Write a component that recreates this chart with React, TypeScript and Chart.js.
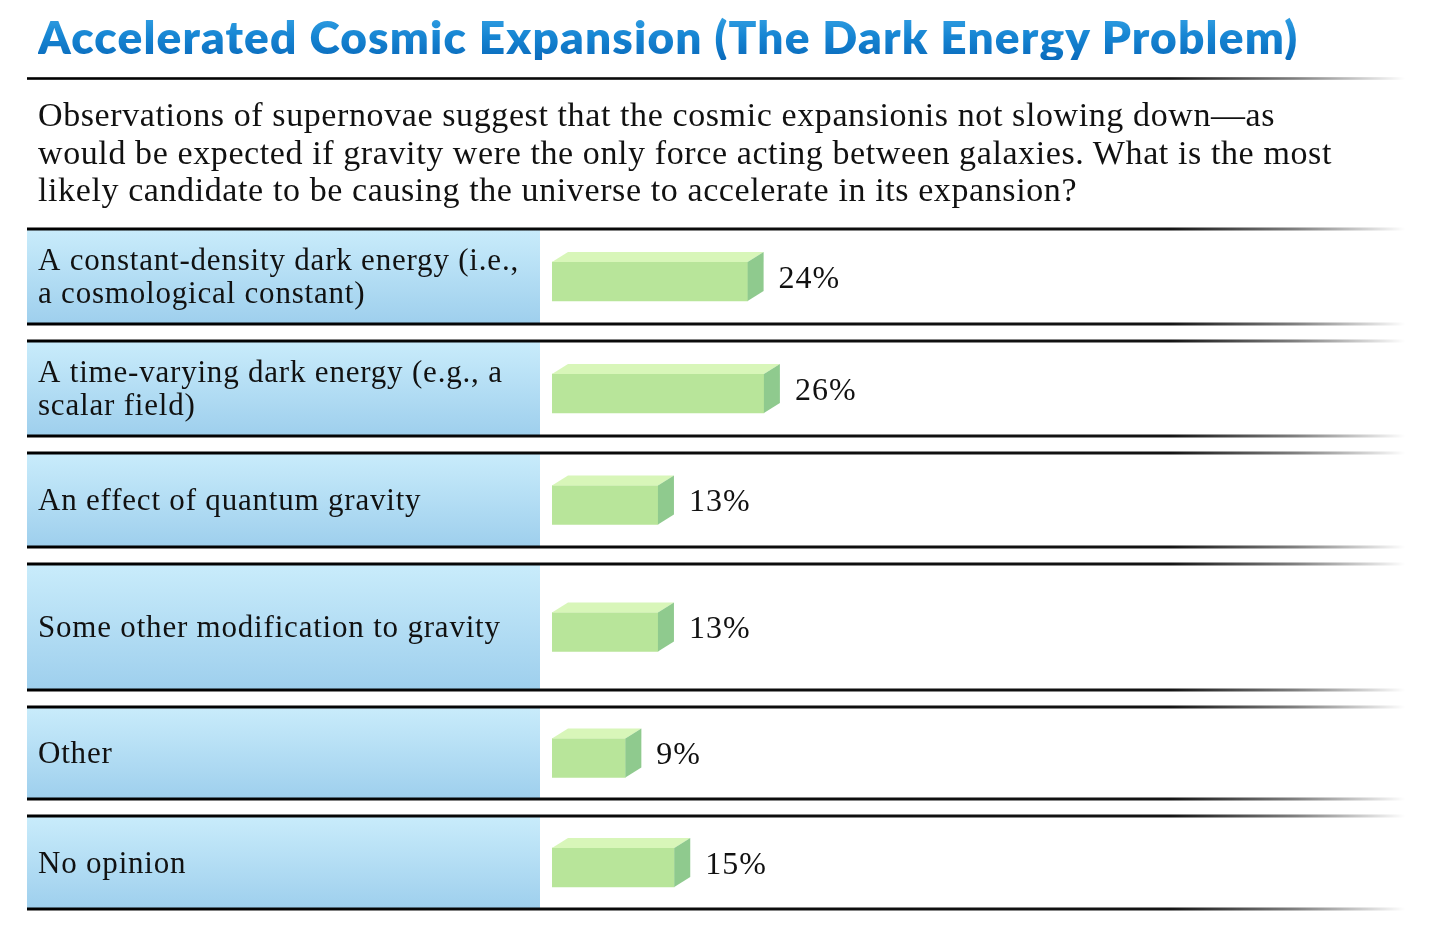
import React, { useEffect, useRef } from "react";
import { Chart, registerables } from "chart.js";

Chart.register(...registerables);

// ---- content ----
const TITLE = "Accelerated Cosmic Expansion (The Dark Energy Problem)";
const QUESTION_LINES = [
  "Observations of supernovae suggest that the cosmic expansionis not slowing down\u2014as",
  "would be expected if gravity were the only force acting between galaxies. What is the most",
  "likely candidate to be causing the universe to accelerate in its expansion?",
];
const CATEGORIES: string[][] = [
  ["A constant-density dark energy (i.e.,", "a cosmological constant)"],
  ["A time-varying dark energy (e.g., a", "scalar field)"],
  ["An effect of quantum gravity"],
  ["Some other modification to gravity"],
  ["Other"],
  ["No opinion"],
];
const PERCENTS = [24, 26, 13, 13, 9, 15];
const VALUE_LABELS = PERCENTS.map((p) => `${p}%`);

// ---- layout ----
const W = 1440;
const H = 939;
const ROW_HEIGHTS = [95, 95, 94, 126, 92, 93];
const ROW_GAP = 17;
const ROWS_TOP = 229;
const BOX_LEFT = 27;
const BOX_RIGHT = 540;
const RULE_RIGHT = 1405;
const PLOT_LEFT = 552;
const PLOT_WIDTH = 815; // 0..100 %
const BAR_THICK = 39;
const DEPTH_X = 16;
const DEPTH_Y = 10;

const rowTops: number[] = [];
{
  let acc = 0;
  ROW_HEIGHTS.forEach((h) => {
    rowTops.push(acc);
    acc += h + ROW_GAP;
  });
}
const ROWS_SPAN = rowTops[rowTops.length - 1] + ROW_HEIGHTS[ROW_HEIGHTS.length - 1];

const SERIF = "'Liberation Serif', 'Times New Roman', serif";
const INK = "#111111";
const FRONT = "#b8e59a";
const TOP_FACE = "#d8f6b9";
const SIDE_FACE = "#8fca8e";

// Thick black rule that fades out towards the right edge.
function drawRule(ctx: CanvasRenderingContext2D, y: number, width: number) {
  const g = ctx.createLinearGradient(BOX_LEFT, 0, RULE_RIGHT, 0);
  g.addColorStop(0, "rgba(0,0,0,1)");
  g.addColorStop(0.83, "rgba(0,0,0,0.92)");
  g.addColorStop(0.92, "rgba(0,0,0,0.5)");
  g.addColorStop(1, "rgba(0,0,0,0)");
  ctx.fillStyle = g;
  ctx.fillRect(BOX_LEFT, y - width / 2, RULE_RIGHT - BOX_LEFT, width);
}

const tablePlugin = {
  id: "surveyTable",
  beforeDatasetsDraw(chart: any) {
    const ctx: any = chart.ctx;
    const y = chart.scales.y;
    ctx.save();
    drawRule(ctx, 78.5, 2.6);
    ROW_HEIGHTS.forEach((h, i) => {
      const top = y.getPixelForValue(rowTops[i]);
      const bottom = y.getPixelForValue(rowTops[i] + h);
      const g = ctx.createLinearGradient(0, top, 0, bottom);
      g.addColorStop(0, "#c9ecfb");
      g.addColorStop(1, "#9ecfed");
      ctx.fillStyle = g;
      ctx.fillRect(BOX_LEFT, top, BOX_RIGHT - BOX_LEFT, bottom - top);
      drawRule(ctx, top, 3);
      drawRule(ctx, bottom, 3);

      const lines = CATEGORIES[i];
      const mid = (top + bottom) / 2;
      ctx.fillStyle = INK;
      ctx.font = `31px ${SERIF}`;
      ctx.letterSpacing = "0.8px";
      ctx.textAlign = "left";
      ctx.textBaseline = "alphabetic";
      lines.forEach((t, k) => {
        ctx.fillText(t, 38, mid + 10 + (k - (lines.length - 1) / 2) * 33);
      });
    });
    ctx.restore();
  },
  afterDatasetsDraw(chart: any) {
    const ctx: any = chart.ctx;
    const meta = chart.getDatasetMeta(0);
    ctx.save();
    meta.data.forEach((bar: any, i: number) => {
      const { x, y, base, height } = bar.getProps(["x", "y", "base", "height"], true);
      const top = y - height / 2;
      const bottom = y + height / 2;
      // top face
      ctx.fillStyle = TOP_FACE;
      ctx.beginPath();
      ctx.moveTo(base, top);
      ctx.lineTo(base + DEPTH_X, top - DEPTH_Y);
      ctx.lineTo(x + DEPTH_X, top - DEPTH_Y);
      ctx.lineTo(x, top);
      ctx.closePath();
      ctx.fill();
      // side face
      ctx.fillStyle = SIDE_FACE;
      ctx.beginPath();
      ctx.moveTo(x, top);
      ctx.lineTo(x + DEPTH_X, top - DEPTH_Y);
      ctx.lineTo(x + DEPTH_X, bottom - DEPTH_Y);
      ctx.lineTo(x, bottom);
      ctx.closePath();
      ctx.fill();

      ctx.fillStyle = INK;
      ctx.font = `32px ${SERIF}`;
      ctx.letterSpacing = "1px";
      ctx.textAlign = "left";
      ctx.textBaseline = "alphabetic";
      ctx.fillText(VALUE_LABELS[i], x + DEPTH_X + 15, y + 6);
    });
    ctx.restore();
  },
};

function SurveyChart() {
  const ref = useRef<HTMLCanvasElement | null>(null);
  useEffect(() => {
    if (!ref.current) return;
    const centers = ROW_HEIGHTS.map((h, i) => rowTops[i] + h / 2 + DEPTH_Y / 2);
    const chart = new Chart(ref.current, {
      type: "bar",
      data: {
        datasets: [
          {
            data: PERCENTS.map((p, i) => ({ x: p, y: centers[i] })),
            backgroundColor: FRONT,
            borderWidth: 0,
            barThickness: BAR_THICK,
          },
        ],
      },
      options: {
        indexAxis: "y",
        animation: false,
        responsive: false,
        maintainAspectRatio: false,
        layout: {
          padding: {
            left: PLOT_LEFT,
            right: W - PLOT_LEFT - PLOT_WIDTH,
            top: ROWS_TOP,
            bottom: H - ROWS_TOP - ROWS_SPAN,
          },
        },
        scales: {
          x: { type: "linear", min: 0, max: 100, display: false, offset: false },
          y: { type: "linear", min: 0, max: ROWS_SPAN, reverse: true, display: false, offset: false },
        },
        plugins: {
          legend: { display: false },
          tooltip: { enabled: false },
        },
      } as any,
      plugins: [tablePlugin],
    });
    return () => chart.destroy();
  }, []);
  return <canvas ref={ref} width={W} height={H} style={{ position: "absolute", left: 0, top: 0, width: W, height: H }} />;
}

export default function App() {
  return (
    <div style={{ position: "absolute", left: 0, top: 0, width: W, height: H, background: "#fff", overflow: "hidden" }}>
      <SurveyChart />
      <div
        style={{
          position: "absolute",
          left: 38,
          top: 14,
          fontFamily: "Lato, 'Open Sans', sans-serif",
          fontWeight: 800,
          fontSize: 46,
          letterSpacing: 1.15,
          lineHeight: 1,
          whiteSpace: "nowrap",
          background: "linear-gradient(180deg, #35a2e4 0%, #1584d2 50%, #0a6abb 100%)",
          WebkitBackgroundClip: "text",
          backgroundClip: "text",
          color: "transparent",
        }}
      >
        {TITLE}
      </div>
      {QUESTION_LINES.map((line, i) => (
        <div
          key={i}
          style={{
            position: "absolute",
            left: 38,
            top: 98 + i * 37.5,
            fontFamily: SERIF,
            fontSize: 34,
            letterSpacing: 0.6,
            lineHeight: 1,
            color: INK,
            whiteSpace: "nowrap",
          }}
        >
          {line}
        </div>
      ))}
    </div>
  );
}
